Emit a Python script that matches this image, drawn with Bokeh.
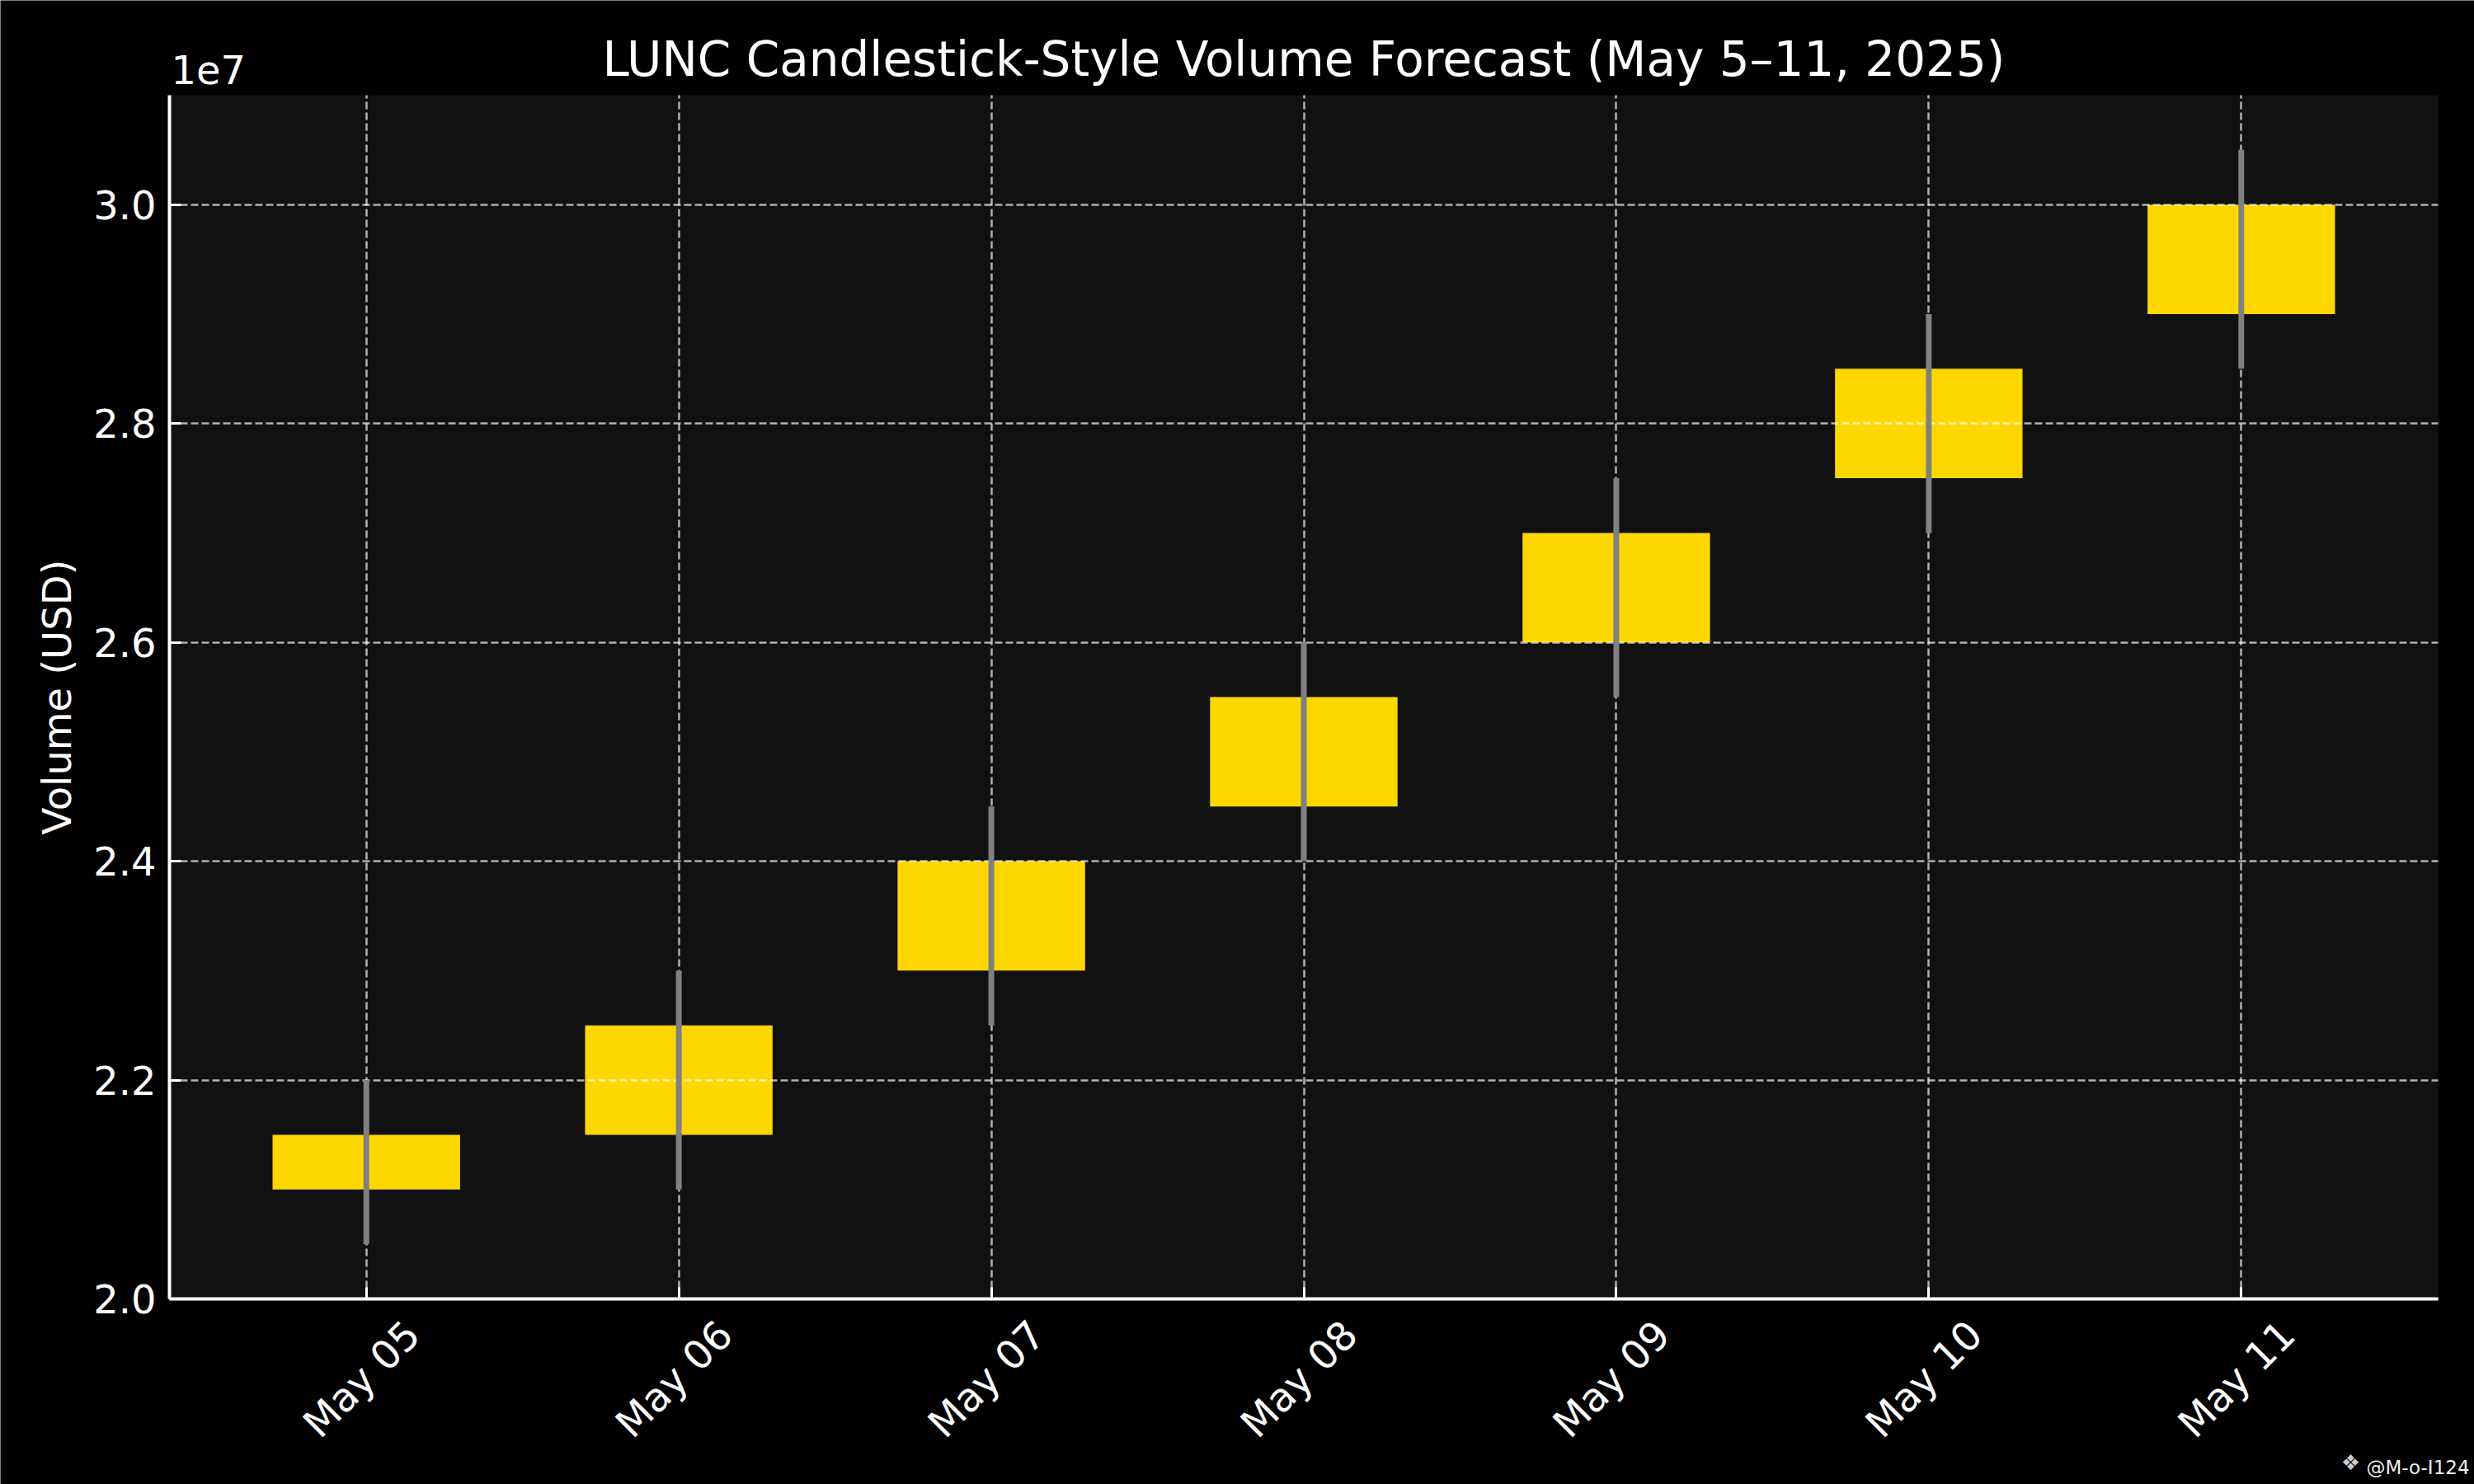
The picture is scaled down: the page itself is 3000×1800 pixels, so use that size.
from bokeh.plotting import figure
from bokeh.models import ColumnDataSource, FixedTicker, LabelSet, Label, Range1d
from bokeh.core.properties import value
from bokeh.embed import file_html
from bokeh.resources import INLINE

# forecast data (USD volume)
days = ["May 05", "May 06", "May 07", "May 08", "May 09", "May 10", "May 11"]
open_vol = [2.10e7, 2.15e7, 2.30e7, 2.45e7, 2.60e7, 2.75e7, 2.90e7]
close_vol = [2.15e7, 2.25e7, 2.40e7, 2.55e7, 2.70e7, 2.85e7, 3.00e7]
low_vol = [2.05e7, 2.10e7, 2.25e7, 2.40e7, 2.55e7, 2.70e7, 2.85e7]
high_vol = [2.20e7, 2.30e7, 2.45e7, 2.60e7, 2.75e7, 2.90e7, 3.05e7]
y_ticks = [2.0e7, 2.2e7, 2.4e7, 2.6e7, 2.8e7, 3.0e7]
y_tick_labels = ["2.0", "2.2", "2.4", "2.6", "2.8", "3.0"]

FONT = "DejaVu Sans"
W, H = 3000, 1800
# plot area inside the canvas
LEFT, RIGHT, TOP, BOTTOM = 205, 44, 115, 225
FW, FH = W - LEFT - RIGHT, H - TOP - BOTTOM
X0, X1 = -0.63, 6.63
Y0, Y1 = 2.0e7, 3.1e7
dxpp = (X1 - X0) / FW
dypp = (Y1 - Y0) / FH
# the frame covers the whole canvas so texts outside the plot area are not clipped
RX0, RX1 = X0 - LEFT * dxpp, X1 + RIGHT * dxpp
RY0, RY1 = Y0 - BOTTOM * dypp, Y1 + TOP * dypp


def px(cx, cy):
    # canvas pixel -> data coords
    return RX0 + cx * dxpp, RY1 - cy * dypp


xs = list(range(len(days)))
src = ColumnDataSource(data=dict(
    x=xs,
    bottom=[min(o, c) for o, c in zip(open_vol, close_vol)],
    top=[max(o, c) for o, c in zip(open_vol, close_vol)],
    low=low_vol,
    high=high_vol,
))

p = figure(width=W, height=H, output_backend="svg", toolbar_location=None,
           x_range=Range1d(RX0, RX1), y_range=Range1d(RY0, RY1),
           min_border=0, min_border_left=0, min_border_right=0,
           min_border_top=0, min_border_bottom=0)
p.border_fill_color = "black"
p.background_fill_color = "black"
p.outline_line_color = None

# plot area
p.quad(left=[X0], right=[X1], bottom=[Y0], top=[Y1], fill_color="#111111",
       line_color=None, level="image")

p.vbar(x="x", width=0.6, bottom="bottom", top="top", source=src,
       fill_color="#FFD700", line_color=None)
p.segment(x0="x", y0="low", x1="x", y1="high", source=src,
          line_color="#808080", line_width=7, level="overlay")

for ax in (p.xaxis, p.yaxis):
    ax.axis_line_color = "white"
    ax.axis_line_width = 4
    ax.major_tick_line_color = "white"
    ax.major_tick_line_width = 3
    ax.major_tick_in = 14
    ax.major_tick_out = 0
    ax.minor_tick_line_color = None

p.xaxis.fixed_location = Y0
p.xaxis.bounds = (X0, X1)
p.xaxis.ticker = FixedTicker(ticks=xs)
p.xaxis.major_label_text_color = None
p.yaxis.fixed_location = X0
p.yaxis.bounds = (Y0, Y1)
p.yaxis.ticker = FixedTicker(ticks=y_ticks)
p.yaxis.major_label_overrides = {t: l for t, l in zip(y_ticks, y_tick_labels)}
p.yaxis.major_label_text_font = FONT
p.yaxis.major_label_text_font_size = "48px"
p.yaxis.major_label_text_color = "white"
p.yaxis.major_label_standoff = 16
p.yaxis.axis_label = "Volume (USD)"
p.yaxis.axis_label_text_font = FONT
p.yaxis.axis_label_text_font_size = "48px"
p.yaxis.axis_label_text_font_style = "normal"
p.yaxis.axis_label_text_color = "white"
p.yaxis.axis_label_standoff = 13

p.xgrid.cross_bounds = (Y0, Y1)
p.ygrid.cross_bounds = (X0, X1)
for g in (p.xgrid, p.ygrid):
    g.grid_line_color = "white"
    g.grid_line_alpha = 0.67
    g.grid_line_dash = "9 4"
    g.grid_line_width = 2.5
    g.level = "guide"

# title
tx, ty = px(LEFT + FW / 2, 71)
p.add_layout(Label(x=tx, y=ty, text="LUNC Candlestick-Style Volume Forecast (May 5–11, 2025)",
                   text_font=FONT, text_font_size="58px", text_color="white",
                   text_align="center", text_baseline="alphabetic"))

# rotated date labels centred under each tick
_, lab_y = px(0, 1672)
lab_src = ColumnDataSource(data=dict(x=[x - 6 * dxpp for x in xs],
                                     y=[lab_y] * len(xs), text=days))
p.add_layout(LabelSet(x="x", y="y", text="text", source=lab_src,
                      angle=45, angle_units="deg", text_align="center",
                      text_baseline="middle", text_font=value(FONT),
                      text_font_size=value("48px"), text_color="white"))

# offset text of the y axis
ox, oy = px(LEFT + 2, 84)
p.add_layout(Label(x=ox, y=oy, text="1e7", text_font=FONT, text_font_size="48px",
                   text_color="white", text_align="left", text_baseline="alphabetic"))

# watermark
ix, iy = px(2850, 1773)
p.add_layout(Label(x=ix, y=iy, text="❖", text_font=FONT, text_font_size="26px",
                   text_color="#cccccc", text_align="center", text_baseline="middle"))
wx, wy = px(2869, 1779)
p.add_layout(Label(x=wx, y=wy, text="@M-o-I124", text_font=FONT, text_font_size="23px",
                   text_color="#eeeeee", text_align="left", text_baseline="alphabetic"))

open("out.html", "w").write(file_html(p, INLINE))
